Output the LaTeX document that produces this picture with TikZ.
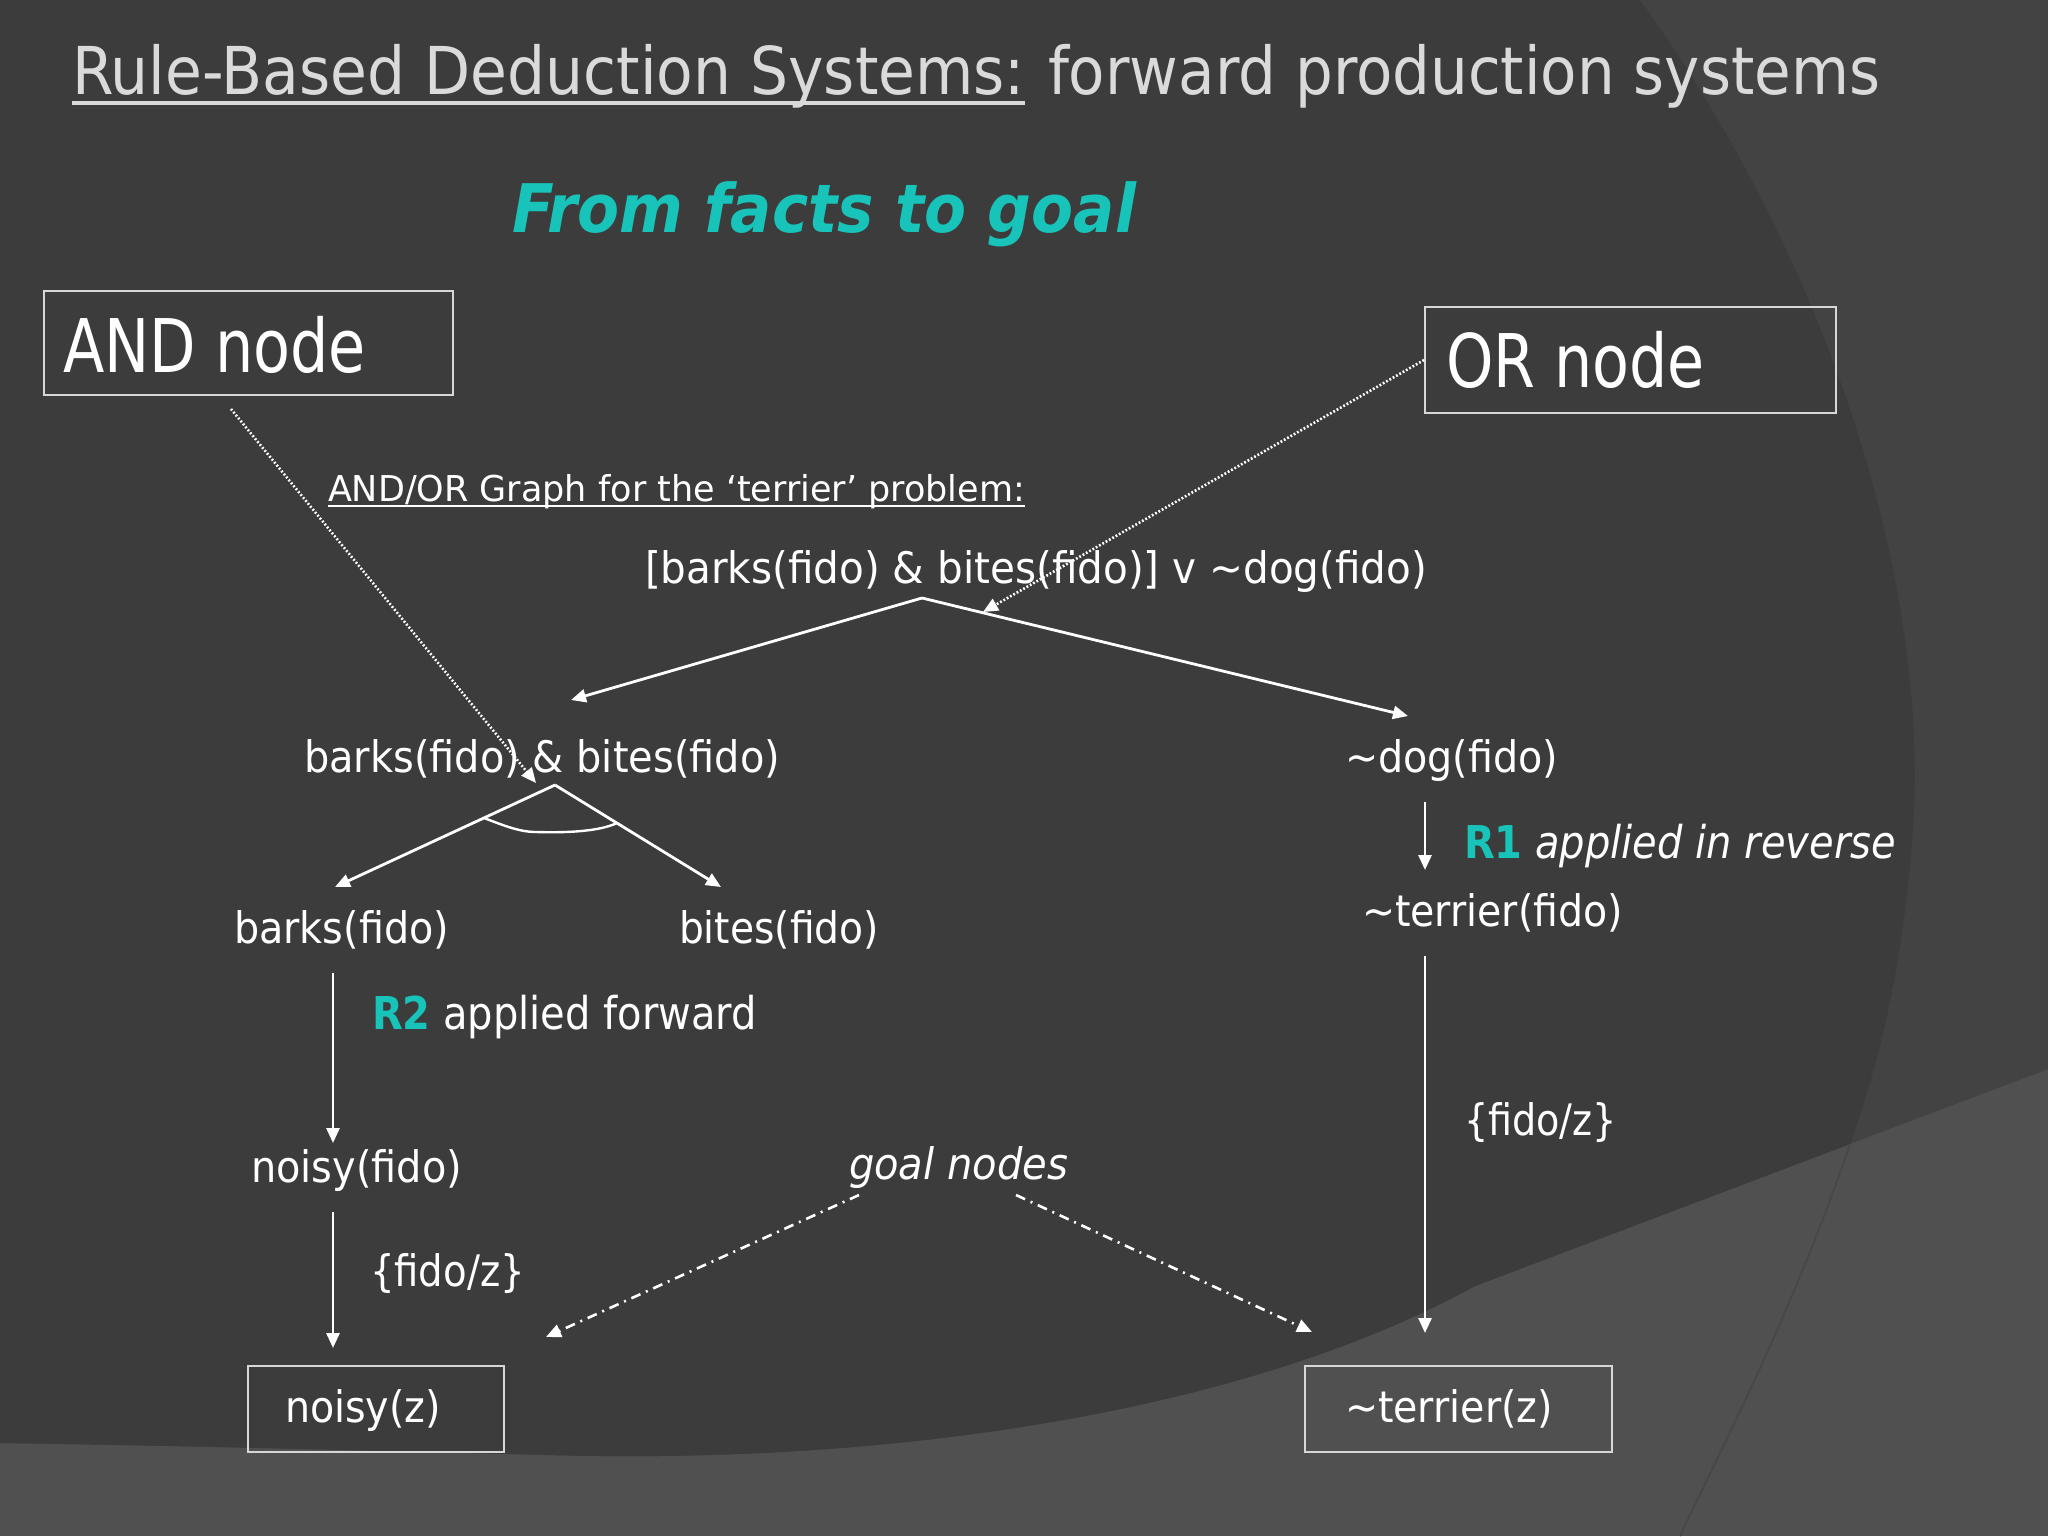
\documentclass[tikz,border=0pt]{standalone}
\usepackage{fontspec}
\setmainfont{DejaVu Sans}
\usepackage{graphicx}
\usetikzlibrary{arrows.meta}
\definecolor{bgdark}{RGB}{60,60,60}
\definecolor{bgmid}{RGB}{67,67,67}
\definecolor{bglight}{RGB}{80,80,80}
\definecolor{arcline}{RGB}{72,72,72}
\definecolor{titlegray}{RGB}{218,218,218}
\definecolor{teal}{RGB}{24,196,186}
\definecolor{boxgray}{RGB}{215,215,215}
\newcommand\fitt[3]{\resizebox{#1pt}{\height}{\fontsize{#2}{#2}\selectfont #3}}
\begin{document}
\begin{tikzpicture}[x=0.5pt,y=-0.5pt,
  txt/.style={anchor=base west, inner sep=0pt, outer sep=0pt, text=white},
  boxnode/.style={draw=boxgray, line width=1pt, anchor=north west, inner sep=0pt},
  arr/.style={draw=white, line width=1.4pt, -{Triangle[length=7.5pt,width=6.5pt]}},
  dotarr/.style={draw=white, line width=1.3pt, dash pattern=on 0.9pt off 1pt, -{Triangle[length=7.5pt,width=6.5pt]}},
  dasharr/.style={draw=white, line width=1.3pt, dash pattern=on 5pt off 3pt on 1pt off 3pt, -{Triangle[length=7.5pt,width=6.5pt]}}]
\useasboundingbox (0,0) rectangle (2048,1536);
% background
\fill[bglight] (0,0) rectangle (2048,1536);
\fill[bgmid] (0,0) -- (2048,0) -- (2048,1069) -- (1475,1286)
  .. controls (1250,1410) and (900,1465) .. (548,1455)
  .. controls (350,1450) and (150,1445) .. (0,1443) -- cycle;
\fill[bgdark] (0,0) -- (1640,0) .. controls (1820,250) and (1925,560) .. (1914,813)
  .. controls (1905,960) and (1880,1060) .. (1850,1144) -- (1475,1286)
  .. controls (1250,1410) and (900,1465) .. (548,1455)
  .. controls (350,1450) and (150,1445) .. (0,1443) -- cycle;
\draw[arcline, line width=1pt] (1850,1144) .. controls (1790,1320) and (1720,1450) .. (1680,1536);

% title
\node[txt, text=titlegray] (t1) at (72,95) {\fitt{476.5}{33}{Rule-Based Deduction Systems:}};
\node[txt, text=titlegray] (t2) at (1048,95) {\fitt{416}{33}{forward production systems}};
\draw[titlegray, line width=2pt] ([yshift=-4pt]t1.base west) -- ([yshift=-4pt]t1.base east);
\node[txt, text=teal] (sub) at (512,232) {\fitt{312}{33.5}{\bfseries\itshape From facts to goal}};

% AND / OR boxes
\node[boxnode, minimum width=204.5pt, minimum height=52pt] (andbox) at (43,290) {};
\node[txt] (andt) at (63,372) {\fitt{151.5}{37}{AND node}};
\node[boxnode, minimum width=205.5pt, minimum height=53pt] (orbox) at (1424,306) {};
\node[txt] (ort) at (1446,387) {\fitt{129.5}{37}{OR node}};

% graph heading
\node[txt] (gh) at (328,501) {\fitt{348.5}{17.8}{AND/OR Graph for the ‘terrier’ problem:}};
\draw[white, line width=1.2pt] ([yshift=-2.6pt]gh.base west) -- ([yshift=-2.6pt]gh.base east);

% formula nodes
\node[txt] (root) at (645,583) {\fitt{391}{21.7}{[barks(fido) \& bites(fido)] v \textasciitilde dog(fido)}};
\node[txt] (andn) at (304,772) {\fitt{238}{21.7}{barks(fido) \& bites(fido)}};
\node[txt] (dog) at (1345,772) {\fitt{106.5}{21.7}{\textasciitilde dog(fido)}};
\node[txt] (barks) at (234,943) {\fitt{107.5}{21.7}{barks(fido)}};
\node[txt] (bites) at (679,943) {\fitt{100}{21.7}{bites(fido)}};
\node[txt] (r1) at (1464,858) {\fitt{216}{22.6}{\textcolor{teal}{\bfseries R1} \itshape applied in reverse}};
\node[txt] (terf) at (1362,926) {\fitt{130.5}{21.7}{\textasciitilde terrier(fido)}};
\node[txt] (r2) at (372,1029) {\fitt{192.5}{22.6}{\textcolor{teal}{\bfseries R2} applied forward}};
\node[txt] (noisyf) at (251,1182) {\fitt{105.5}{21.7}{noisy(fido)}};
\node[txt] (goal) at (849,1179) {\fitt{109.5}{21.7}{\itshape goal nodes}};
\node[txt] (fz1) at (370,1286) {\fitt{77.5}{21.7}{\{fido/z\}}};
\node[txt] (fz2) at (1464,1135) {\fitt{76.5}{21.7}{\{fido/z\}}};
\node[boxnode, minimum width=128pt, minimum height=43pt] (nzbox) at (247,1365) {};
\node[txt] (noisyz) at (285,1422) {\fitt{78}{21.7}{noisy(z)}};
\node[boxnode, minimum width=153.5pt, minimum height=43pt] (tzbox) at (1304,1365) {};
\node[txt] (terz) at (1345,1422) {\fitt{104}{21.7}{\textasciitilde terrier(z)}};

% connector end points
\coordinate (rootapex) at (922,598);
\coordinate (andtip) at (571,700);
\coordinate (dogtip) at (1408,716);
\coordinate (andapex) at (555,785);
\coordinate (barkstip) at (335,887);
\coordinate (bitestip) at (721,887);
\coordinate (andptr) at (231,409);
\coordinate (andptrtip) at (536,783);
\coordinate (orptr) at (orbox.west);
\coordinate (orptrtip) at (983,612);
\coordinate (dogdown) at (1425,802);
\coordinate (dogdowntip) at (1425,870);
\coordinate (terfdown) at (1425,956);
\coordinate (terfdowntip) at (1425,1333);
\coordinate (barksdown) at (333,973);
\coordinate (barksdowntip) at (333,1143);
\coordinate (noisydown) at (333,1212);
\coordinate (noisydowntip) at (333,1348);
\coordinate (goalL) at (859,1195);
\coordinate (goalLtip) at (546,1337);
\coordinate (goalR) at (1016,1195);
\coordinate (goalRtip) at (1312,1332);

% connectors
\draw[arr] (rootapex) -- (andtip);
\draw[arr] (rootapex) -- (dogtip);
\draw[arr] (andapex) -- (barkstip);
\draw[arr] (andapex) -- (bitestip);
\draw[white, line width=1.2pt] (484,818) .. controls (505,826) and (520,832) .. (536,832) .. controls (570,833) and (600,831) .. (617,823);
\draw[dotarr] (andptr) -- (andptrtip);
\draw[dotarr] (orptr) -- (orptrtip);
\draw[arr] (dogdown) -- (dogdowntip);
\draw[arr] (terfdown) -- (terfdowntip);
\draw[arr] (barksdown) -- (barksdowntip);
\draw[arr] (noisydown) -- (noisydowntip);
\draw[dasharr] (goalL) -- (goalLtip);
\draw[dasharr] (goalR) -- (goalRtip);
\end{tikzpicture}
\end{document}
